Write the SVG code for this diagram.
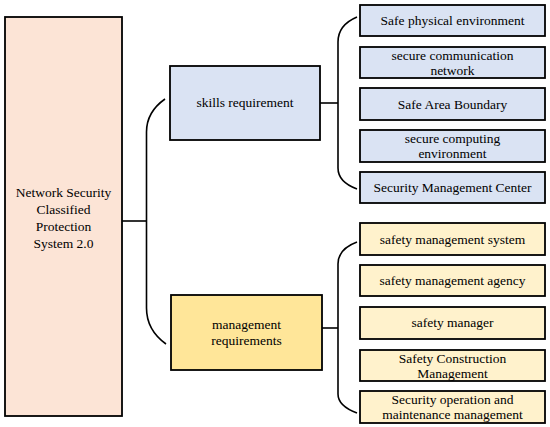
<svg xmlns="http://www.w3.org/2000/svg" width="550" height="427" viewBox="0 0 550 427">
<style>
rect{stroke:#000;stroke-width:1.8}
.root{fill:#fce4d6}
.blue{fill:#dae3f3}
.ylw{fill:#fff2cc}
.mg{fill:#ffe699}
text{font-family:"Liberation Serif","Times New Roman",serif;font-size:13.5px;fill:#000;text-anchor:middle}
.c{fill:none;stroke:#000;stroke-width:1.6}
</style>
<rect width="550" height="427" fill="#fff" style="stroke:none"/>
<g id="connectors">
<path class="c" d="M122,221 H146.5"/>
<path class="c" d="M165,99 Q146.5,112 146.5,132 V308 Q146.5,330 166,344"/>
<path class="c" d="M320,103 H338"/>
<path class="c" d="M357,17 Q338,25 338,42 V168 Q338,182 357,189"/>
<path class="c" d="M322,328 H338"/>
<path class="c" d="M357,242 Q338,249 338,264 V394 Q338,406 357,413"/>
</g>
<g id="root"><rect class="root" x="5" y="17" width="117" height="399"/>
<text x="63.5" y="197">Network Security</text><text x="63.5" y="214">Classified</text><text x="63.5" y="231">Protection</text><text x="63.5" y="248">System 2.0</text></g>
<g id="skills"><rect class="blue" x="170" y="66" width="150" height="74"/><text x="245" y="107">skills requirement</text></g>
<g id="mgmt"><rect class="mg" x="171" y="295" width="151" height="75"/><text x="246.5" y="329">management</text><text x="246.5" y="345">requirements</text></g>
<g id="s1"><rect class="blue" x="360" y="5" width="185" height="31"/><text x="452.5" y="25">Safe physical environment</text></g>
<g id="s2"><rect class="blue" x="360" y="47" width="185" height="31"/><text x="452.5" y="60">secure communication</text><text x="452.5" y="75">network</text></g>
<g id="s3"><rect class="blue" x="360" y="88" width="185" height="32"/><text x="452.5" y="109">Safe Area Boundary</text></g>
<g id="s4"><rect class="blue" x="360" y="130" width="185" height="32"/><text x="452.5" y="143">secure computing</text><text x="452.5" y="158">environment</text></g>
<g id="s5"><rect class="blue" x="360" y="172" width="185" height="31"/><text x="452.5" y="192">Security Management Center</text></g>
<g id="m1"><rect class="ylw" x="360" y="223" width="185" height="32"/><text x="452.5" y="244">safety management system</text></g>
<g id="m2"><rect class="ylw" x="360" y="265" width="185" height="31"/><text x="452.5" y="285">safety management agency</text></g>
<g id="m3"><rect class="ylw" x="360" y="307" width="185" height="32"/><text x="452.5" y="327">safety manager</text></g>
<g id="m4"><rect class="ylw" x="360" y="350" width="185" height="31"/><text x="452.5" y="363">Safety Construction</text><text x="452.5" y="378">Management</text></g>
<g id="m5"><rect class="ylw" x="360" y="391" width="185" height="32"/><text x="452.5" y="404">Security operation and</text><text x="452.5" y="419">maintenance management</text></g>
</svg>
